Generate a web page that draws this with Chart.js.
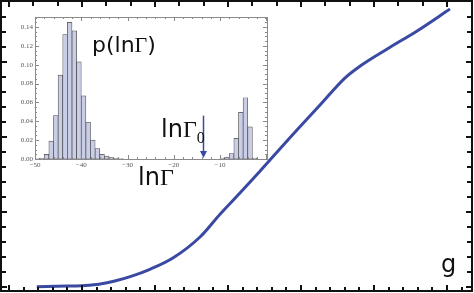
<!DOCTYPE html>
<html>
<head>
<meta charset="utf-8">
<script src="https://cdn.jsdelivr.net/npm/chart.js@4.4.0/dist/chart.umd.min.js"></script>
<style>
  html, body { margin: 0; padding: 0; background: #fff; }
  #wrap { position: relative; width: 474px; height: 293px; }
  #main, #inset { position: absolute; left: 0; top: 0; }
</style>
</head>
<body>
<div id="wrap">
  <canvas id="main" width="474" height="293"></canvas>
  <canvas id="inset" width="280" height="195"></canvas>
</div>
<script>
// main curve (g on x, unlabeled quantity on y)
const gValues     = [0.038, 0.079, 0.104, 0.125, 0.145, 0.166, 0.193, 0.225, 0.262, 0.289, 0.316, 0.344, 0.382, 0.426, 0.460, 0.481, 0.518, 0.559, 0.604];
const curveValues = [0.002, 0.006, 0.010, 0.020, 0.040, 0.069, 0.118, 0.195, 0.335, 0.485, 0.625, 0.773, 0.980, 1.213, 1.393, 1.473, 1.587, 1.707, 1.853];

// inset histogram p(lnGamma), bins of width 1
const binCenters = [-49.5, -48.5, -47.5, -46.5, -45.5, -44.5, -43.5, -42.5, -41.5, -40.5, -39.5, -38.5, -37.5, -36.5, -35.5, -34.5, -33.5, -32.5, -31.5,
                    -9.5, -8.5, -7.5, -6.5, -5.5, -4.5, -3.5, -2.5];
const binHeights = [0.0005, 0.001, 0.005, 0.019, 0.046, 0.089, 0.132, 0.145, 0.136, 0.103, 0.067, 0.039, 0.020, 0.011, 0.005, 0.003, 0.0015, 0.001, 0.0005,
                    0.001, 0.002, 0.0057, 0.022, 0.0495, 0.065, 0.034, 0.001];
const lnGamma0 = -13.7;

// tick values
const insetXTicks = [-50, -40, -30, -20, -10];
const insetYTicks = [0, 0.02, 0.04, 0.06, 0.08, 0.10, 0.12, 0.14];

const ink = '#111';
const curveBlue = '#3a49a2';

const mainFrame = {
  id: 'mainFrame',
  afterDatasetsDraw(chart) {
    const { ctx, chartArea: a, scales: { x, y } } = chart;
    ctx.save();
    ctx.strokeStyle = ink;
    ctx.lineWidth = 2;
    ctx.strokeRect(a.left, a.top, a.width, a.height);
    ctx.beginPath();
    // bottom ticks: 5 per major step
    for (let i = -1; i <= 32; i++) {
      const px = Math.round(x.getPixelForValue(i * 0.02));
      if (px <= a.left + 2 || px >= a.right - 2) continue;
      const len = i % 5 === 0 ? 6 : 4;
      ctx.moveTo(px, a.bottom); ctx.lineTo(px, a.bottom - len);
    }
    // top ticks: 3 per major step
    for (let i = -1; i <= 20; i++) {
      const px = Math.round(x.getPixelForValue(i * 0.1 / 3));
      if (px <= a.left + 2 || px >= a.right - 2) continue;
      const len = i % 3 === 0 ? 6 : 5;
      ctx.moveTo(px, a.top); ctx.lineTo(px, a.top + len);
    }
    // y ticks, left and right
    for (let i = 0; i <= 19; i++) {
      const py = Math.round(y.getPixelForValue(i * 0.1));
      if (py <= a.top + 2 || py >= a.bottom - 2) continue;
      const len = i % 5 === 0 ? 6 : 5;
      ctx.moveTo(a.left, py); ctx.lineTo(a.left + len, py);
      ctx.moveTo(a.right, py); ctx.lineTo(a.right - len, py);
    }
    ctx.stroke();
    ctx.fillStyle = ink;
    ctx.font = '24px "DejaVu Sans"';
    ctx.fillText('g', 441, 272);
    ctx.restore();
  }
};

new Chart(document.getElementById('main'), {
  type: 'line',
  data: {
    datasets: [{
      data: gValues.map((g, i) => ({ x: g, y: curveValues[i] })),
      borderColor: curveBlue,
      borderWidth: 3,
      pointRadius: 0,
      cubicInterpolationMode: 'monotone',
      fill: false
    }]
  },
  options: {
    responsive: false,
    animation: false,
    layout: { padding: { left: 1, top: 1, right: 2, bottom: 2 } },
    plugins: { legend: { display: false }, tooltip: { enabled: false } },
    scales: {
      x: { type: 'linear', display: false, min: -0.011, max: 0.6342 },
      y: { type: 'linear', display: false, min: -0.0267, max: 1.9067 }
    }
  },
  plugins: [mainFrame]
});

function drawLnGamma(ctx, x0, base, size) {
  ctx.font = size + 'px "DejaVu Sans"';
  ctx.fillText('ln', x0, base);
  const w = ctx.measureText('ln').width;
  ctx.font = size + 'px "Liberation Serif"';
  ctx.fillText('\u0393', x0 + w, base);
  return x0 + w + ctx.measureText('\u0393').width;
}

const insetFrame = {
  id: 'insetFrame',
  beforeDatasetsDraw(chart) {
    const { ctx, chartArea: a } = chart;
    ctx.save();
    ctx.fillStyle = '#fff';
    ctx.fillRect(a.left, a.top, a.width, a.height);
    ctx.restore();
  },
  afterDatasetsDraw(chart) {
    const { ctx, chartArea: a, scales: { x, y } } = chart;
    ctx.save();
    ctx.strokeStyle = '#8a8a8a';
    ctx.lineWidth = 1;
    ctx.strokeRect(a.left + 0.5, a.top + 0.5, a.width, a.height);
    ctx.beginPath();
    for (let v = -50; v <= 0; v += 2) {
      const px = Math.round(x.getPixelForValue(v)) + 0.5;
      const len = v % 10 === 0 ? 4 : 2;
      ctx.moveTo(px, a.bottom); ctx.lineTo(px, a.bottom - len);
      ctx.moveTo(px, a.top); ctx.lineTo(px, a.top + len);
    }
    for (let i = 0; i <= 30; i++) {
      const py = Math.round(y.getPixelForValue(i * 0.005)) + 0.5;
      const len = i % 4 === 0 ? 4 : 2;
      ctx.moveTo(a.left, py); ctx.lineTo(a.left + len, py);
      ctx.moveTo(a.right, py); ctx.lineTo(a.right - len, py);
    }
    ctx.stroke();
    // tick labels
    ctx.fillStyle = '#555';
    ctx.font = '7px "Liberation Serif"';
    ctx.textAlign = 'right';
    ctx.textBaseline = 'middle';
    insetYTicks.forEach(v => ctx.fillText(v.toFixed(2), a.left - 2, y.getPixelForValue(v)));
    ctx.textAlign = 'center';
    ctx.textBaseline = 'top';
    insetXTicks.forEach(v => ctx.fillText('\u2212' + Math.abs(v), x.getPixelForValue(v), a.bottom + 3));
    // arrow at lnGamma0
    const ax = Math.round(x.getPixelForValue(lnGamma0)) + 0.5;
    const yTop = y.getPixelForValue(0.046), yTip = y.getPixelForValue(0.001);
    ctx.strokeStyle = curveBlue;
    ctx.fillStyle = curveBlue;
    ctx.lineWidth = 1.5;
    ctx.beginPath();
    ctx.moveTo(ax, yTop); ctx.lineTo(ax, yTip - 5);
    ctx.stroke();
    ctx.beginPath();
    ctx.moveTo(ax - 3.5, yTip - 7); ctx.lineTo(ax + 3.5, yTip - 7); ctx.lineTo(ax, yTip);
    ctx.closePath(); ctx.fill();
    // labels
    ctx.fillStyle = ink;
    ctx.textAlign = 'left';
    ctx.textBaseline = 'alphabetic';
    ctx.font = '22px "DejaVu Sans"';
    ctx.fillText('p(', 92, 52);
    let xe = drawLnGamma(ctx, 92 + ctx.measureText('p(').width, 52, 22);
    ctx.font = '22px "DejaVu Sans"';
    ctx.fillText(')', xe, 52);
    xe = drawLnGamma(ctx, 161, 137, 24);
    ctx.font = '16px "Liberation Serif"';
    ctx.fillText('0', xe, 143);
    drawLnGamma(ctx, 138, 185, 24);
    ctx.restore();
  }
};

new Chart(document.getElementById('inset'), {
  type: 'bar',
  data: {
    datasets: [{
      data: binCenters.map((c, i) => ({ x: c, y: binHeights[i] })),
      backgroundColor: '#c9cde6',
      borderColor: '#4a4a4a',
      borderWidth: 0.7,
      borderSkipped: false,
      barThickness: 4.625
    }]
  },
  options: {
    responsive: false,
    animation: false,
    layout: { padding: { left: 35, top: 17, right: 13, bottom: 36 } },
    plugins: { legend: { display: false }, tooltip: { enabled: false } },
    scales: {
      x: { type: 'linear', display: false, offset: false, min: -50, max: 0.16 },
      y: { type: 'linear', display: false, min: 0, max: 0.1506 }
    }
  },
  plugins: [insetFrame]
});
</script>
</body>
</html>
